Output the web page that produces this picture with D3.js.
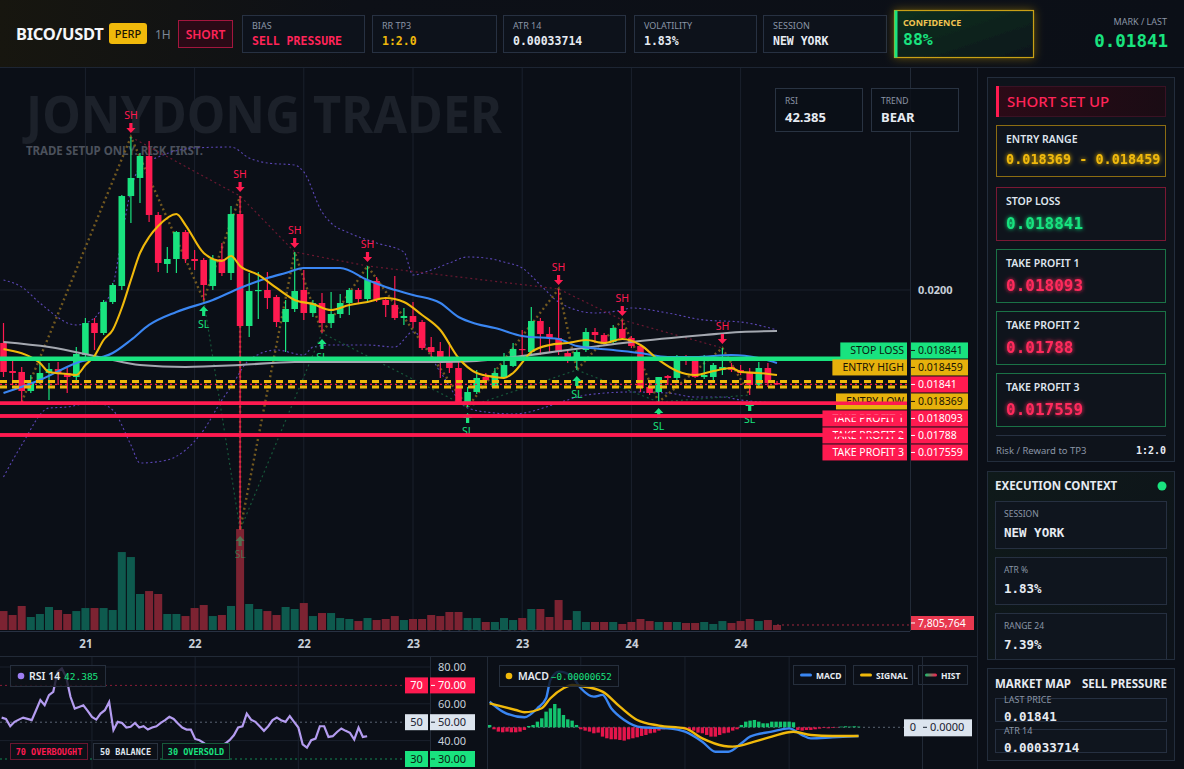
<!DOCTYPE html>
<html>
<head>
<meta charset="utf-8">
<title>BICO/USDT short setup</title>
<script src="https://cdn.jsdelivr.net/npm/d3@7/dist/d3.min.js"></script>
<style>
  html, body { margin: 0; padding: 0; background: #0b0f17; overflow: hidden; }
  svg { display: block; }
  text { font-family: "Noto Sans", "Open Sans", sans-serif; }
  .mono { font-family: "DejaVu Sans Mono", "Liberation Mono", monospace; }
</style>
</head>
<body>
<svg id="chart" width="1184" height="769"></svg>
<script>
'use strict';

// ---- values (1H candles) ----
const tickIdx = [9, 21, 33, 45, 57, 69, 81];
const tickLabels = ['21', '22', '22', '23', '23', '24', '24'];
const subGridIdx = [21, 45, 69];

const openP = [0.019108,0.018636,0.018620,0.018300,0.018451,0.018603,0.018670,0.018603,0.018535,0.018906,
  0.019444,0.019276,0.019798,0.020067,0.021582,0.021886,0.022256,0.021263,0.020438,0.020522,
  0.020976,0.020522,0.020505,0.020067,0.020522,0.020286,0.021279,0.019394,0.019983,0.020000,
  0.019882,0.019461,0.019680,0.020000,0.019613,0.019781,0.019444,0.019596,0.019781,0.020000,
  0.019848,0.020152,0.019832,0.019747,0.019529,0.019562,0.019461,0.019040,0.018973,0.018855,
  0.018687,0.018098,0.018283,0.018535,0.018367,0.018535,0.018721,0.019007,0.018956,0.019478,
  0.019259,0.019192,0.018939,0.018855,0.018990,0.019293,0.019242,0.019125,0.019343,0.019192,
  0.019057,0.018367,0.018283,0.018552,0.018519,0.018872,0.018855,0.018535,0.018535,0.018653,
  0.018704,0.018653,0.018603,0.018401,0.018687,0.018434];
const highP = [0.019444,0.018872,0.018704,0.018569,0.018822,0.018771,0.018788,0.018687,0.019040,0.019529,
  0.019529,0.019832,0.020118,0.021599,0.022576,0.022306,0.022508,0.021313,0.020724,0.020993,
  0.021010,0.020673,0.020539,0.020589,0.020791,0.021414,0.021582,0.020286,0.020303,0.020303,
  0.019916,0.019832,0.020640,0.020337,0.019832,0.019949,0.019966,0.019933,0.020034,0.020034,
  0.020404,0.020219,0.019882,0.020236,0.019697,0.019798,0.019495,0.019209,0.019125,0.019125,
  0.018822,0.018367,0.018653,0.018603,0.018687,0.018939,0.019108,0.019327,0.019714,0.019529,
  0.019377,0.020017,0.018990,0.018990,0.019360,0.019360,0.019276,0.019411,0.019495,0.019226,
  0.019091,0.018434,0.018535,0.018569,0.018906,0.018906,0.018889,0.018906,0.018771,0.019024,
  0.018771,0.018737,0.018687,0.018788,0.018771,0.018468];
const lowP = [0.018535,0.018401,0.018114,0.018266,0.018418,0.018148,0.018401,0.018266,0.018485,0.018872,
  0.018990,0.019242,0.019764,0.020000,0.021128,0.021465,0.021145,0.020303,0.020286,0.020286,
  0.020455,0.020337,0.019832,0.020000,0.020236,0.020168,0.015960,0.019209,0.019512,0.019680,
  0.019377,0.018956,0.019630,0.019495,0.019545,0.019276,0.019360,0.019529,0.019579,0.019781,
  0.019815,0.019798,0.019545,0.019495,0.019411,0.019360,0.018990,0.018771,0.018519,0.018603,
  0.018081,0.018030,0.018249,0.018401,0.018350,0.018519,0.018704,0.018872,0.018906,0.018906,
  0.018939,0.018906,0.018771,0.018653,0.018956,0.019108,0.019074,0.019091,0.019158,0.019024,
  0.018283,0.018232,0.018114,0.018401,0.018485,0.018737,0.018519,0.018502,0.018485,0.018569,
  0.018620,0.018569,0.018232,0.018367,0.018367,0.018401];
const closeP = [0.018620,0.018603,0.018300,0.018451,0.018603,0.018670,0.018603,0.018535,0.018923,0.019444,
  0.019276,0.019798,0.020084,0.021582,0.021886,0.022256,0.021263,0.020455,0.020522,0.020976,
  0.020522,0.020488,0.020084,0.020522,0.020286,0.021279,0.019394,0.019983,0.020000,0.019865,
  0.019461,0.019680,0.019983,0.019613,0.019781,0.019444,0.019596,0.019781,0.020000,0.019848,
  0.020168,0.019832,0.019747,0.019529,0.019562,0.019461,0.019024,0.018956,0.018822,0.018687,
  0.018114,0.018283,0.018519,0.018485,0.018603,0.018737,0.019007,0.018990,0.019478,0.019259,
  0.019192,0.018956,0.018822,0.018956,0.019293,0.019242,0.019125,0.019360,0.019192,0.019057,
  0.018350,0.018266,0.018535,0.018519,0.018822,0.018822,0.018535,0.018569,0.018737,0.018704,
  0.018653,0.018603,0.018401,0.018687,0.018434,0.018410];
// volume in millions
const volumeM = [29.6,23.4,37.5,20.3,25.0,35.9,31.2,25.0,29.6,34.3,
  34.3,34.3,31.2,121.7,113.9,56.2,60.8,56.2,25.0,25.0,
  21.8,34.3,39.0,21.8,23.4,37.5,157.6,40.6,32.8,29.6,
  23.4,35.9,32.8,42.1,21.8,26.5,26.5,18.7,17.2,14.0,
  18.7,15.6,17.2,21.8,15.6,17.2,17.2,23.4,21.8,28.1,
  28.1,18.7,18.7,12.5,12.5,18.7,15.6,18.7,32.8,32.8,
  20.3,46.8,15.6,29.6,12.5,12.5,12.5,12.5,9.4,12.5,
  17.2,14.0,12.5,12.5,12.5,10.9,10.9,12.5,9.4,14.0,
  10.9,14.0,17.2,14.0,15.6,7.805764];
const lastVolume = 7805764;

// indicator lines, [candle, price]
const emaFast = [[0,0.019007],[4,0.018771],[5,0.018620],[7,0.018586],[8,0.018569],[9,0.018737],[10,0.018889],
  [11,0.019158],[12,0.019327],[13,0.019697],[14,0.020168],[15,0.020623],[16,0.020892],[17,0.021077],[19,0.021279],
  [20,0.021094],[22,0.020623],[24,0.020488],[25,0.020572],[26,0.020404],[28,0.020253],[30,0.020034],[32,0.019832],
  [34,0.019764],[36,0.019663],[38,0.019747],[40,0.019798],[42,0.019865],[44,0.019798],[46,0.019579],[48,0.019327],
  [50,0.018855],[52,0.018603],[54,0.018535],[55,0.018519],[56,0.018603],[58,0.018956],[60,0.019074],[62,0.019108],
  [64,0.019158],[66,0.019108],[68,0.019175],[70,0.019074],[72,0.018822],[74,0.018636],[76,0.018569],[78,0.018636],
  [80,0.018687],[81,0.018620],[83,0.018603],[85,0.018569]];
const emaSlow = [[0,0.018266],[4,0.018485],[8,0.018771],[12,0.018939],[14,0.019158],[16,0.019411],[19,0.019630],
  [23,0.019832],[26,0.020034],[29,0.020202],[31,0.020286],[33,0.020370],[37,0.020370],[40,0.020168],[42,0.020051],
  [45,0.019916],[48,0.019781],[50,0.019545],[52,0.019428],[54,0.019360],[57,0.019226],[61,0.019175],[63,0.019057],
  [67,0.018990],[70,0.018939],[73,0.018872],[76,0.018872],[80,0.018906],[83,0.018855],[85,0.018771]];
const maLong = [[0,0.019125],[5,0.019040],[11,0.018855],[15,0.018737],[20,0.018704],[26,0.018737],[32,0.018788],
  [40,0.018788],[48,0.018788],[52,0.018805],[56,0.018872],[62,0.018990],[69,0.019125],[77,0.019242],[81,0.019293],
  [85,0.019310]];
const bbUpper = [[0,0.020168],[2,0.020051],[4,0.019781],[8,0.019411],[10,0.019529],[11,0.019747],[12,0.020051],
  [13,0.020892],[14,0.021684],[15,0.022071],[17,0.022239],[21,0.022391],[25,0.022407],[27,0.022222],[29,0.022138],
  [32,0.022104],[33,0.021987],[35,0.021313],[36,0.021128],[38,0.020960],[41,0.020791],[44,0.020640],[45,0.020253],
  [47,0.020337],[49,0.020455],[51,0.020556],[53,0.020539],[55,0.020471],[57,0.020370],[59,0.020084],[61,0.019798],
  [65,0.019613],[68,0.019663],[69,0.019697],[73,0.019613],[77,0.019495],[81,0.019461],[85,0.019327]];
const bbLower = [[0,0.016852],[2,0.017391],[5,0.018013],[7,0.018030],[10,0.018114],[12,0.017980],[14,0.017391],
  [15,0.017088],[18,0.017138],[20,0.017306],[22,0.017643],[24,0.018148],[25,0.018367],[27,0.018822],[30,0.018990],
  [33,0.018906],[34,0.019040],[36,0.019074],[40,0.019074],[43,0.019040],[45,0.019293],[48,0.018620],[51,0.018013],
  [54,0.017929],[56,0.017912],[62,0.018148],[64,0.018232],[69,0.018283],[73,0.018266],[76,0.018199],[79,0.018199],
  [81,0.018148],[85,0.018098]];

const swingHighIdx = [14, 26, 32, 40, 61, 68, 79];
const swingLowIdx = [22, 26, 35, 51, 63, 72, 82];
const zigzagStartIdx = 2;

const levelNames = ['STOP LOSS', 'ENTRY HIGH', '', 'ENTRY LOW', 'TAKE PROFIT 1', 'TAKE PROFIT 2', 'TAKE PROFIT 3'];
const levelPrices = [0.018841, 0.018459, 0.01841, 0.018369, 0.018093, 0.01788, 0.017559];
const levelKinds = ['stop', 'entry', 'last', 'entry', 'tp', 'tp', 'tp'];

const rsi14 = [52.5,51.8,47.8,50.2,51.4,52.5,51.8,51.1,56.5,62.0,
  59.2,64.7,66.5,77.4,79.2,74.6,63.8,57.4,58.3,59.2,
  56.2,52.9,51.4,54.7,56.5,61.0,45.7,50.2,49.6,47.1,
  47.5,49.6,47.1,47.8,46.0,47.1,47.8,49.6,51.1,52.9,
  51.8,49.3,47.1,46.0,46.0,40.9,40.2,38.8,37.0,33.0,
  34.8,37.0,38.4,40.2,42.9,47.1,47.8,54.7,51.4,50.2,
  47.8,45.3,47.8,51.1,52.5,51.1,50.2,53.3,50.2,47.1,
  38.0,36.2,40.2,41.1,47.8,47.8,42.0,42.4,44.7,46.6,
  45.3,44.2,40.6,47.1,42.0,42.385];
const rsiLevels = [70, 50, 30];

// MACD values in units of 1e-6
const macdLine = [[0,19.3],[3,11.8],[8,7.5],[11,14.3],[13,21.8],[14,35.5],[16,41.8],[19,38.0],[21,29.3],
  [24,23.0],[26,24.3],[28,14.3],[31,5.5],[35,0],[41,-0.8],[45,-3.3],[49,-10.8],[52,-18.3],[55,-18.3],
  [58,-12.0],[60,-7.0],[65,-3.3],[69,-0.8],[72,-5.8],[74,-8.3],[79,-7.5],[85,-6.52]];
const macdSignal = [[0,18.0],[6,13.0],[8,11.3],[12,14.3],[14,21.8],[17,29.3],[19,31.8],[21,31.0],[26,26.8],
  [30,15.5],[34,5.5],[39,1.3],[45,-0.8],[49,-8.3],[54,-14.0],[56,-14.5],[61,-10.8],[65,-7.0],[70,-3.3],
  [74,-5.8],[79,-6.5],[85,-6.5]];
const macdHist = [1.75,-1.5,-3.25,-3.75,-3.25,-3.75,-3.75,-3.25,-2.0,1.0,
  1.75,4.25,6.75,11.75,14.25,17.5,14.25,9.25,6.0,5.0,
  1.75,-1.5,-2.5,-3.25,-4.5,-4.0,-7.0,-8.25,-9.0,-9.0,
  -9.5,-10.0,-9.0,-8.25,-7.5,-6.5,-5.75,-4.5,-4.0,-2.5,
  -1.5,-0.75,-0.75,-0.75,-0.75,-1.5,-2.0,-2.5,-4.0,-4.5,
  -5.75,-7.0,-7.0,-5.75,-4.5,-4.0,-2.5,-1.5,1.75,4.25,
  5.0,5.5,4.25,3.0,3.0,4.25,4.25,4.25,4.25,4.25,
  3.75,-2.0,-2.5,-2.0,-2.0,-1.5,-1.0,-0.5,-0.75,-0.5,
  -0.25,0.5,0.75,0.5,0.75,0.5];

const headerLabels = ['BIAS', 'RR TP3', 'ATR 14', 'VOLATILITY', 'SESSION'];
const headerValues = ['SELL PRESSURE', '1:2.0', '0.00033714', '1.83%', 'NEW YORK'];
const contextLabels = ['SESSION', 'ATR %', 'RANGE 24'];
const contextValues = ['NEW YORK', '1.83%', '7.39%'];

// ---- colours ----
const GREEN = '#19e37f', RED = '#ff1a50', GOLD = '#f0b90b', BLUE = '#3a86f2';
const TXT = '#e6ebf2', MUTED = '#8a95a6', PANEL = '#0e131b', EDGE = '#232d3c';

const svg = d3.select('#chart');
const defs = svg.append('defs');

function grad(id, stops, x2, y2) {
  const g = defs.append('linearGradient').attr('id', id)
    .attr('x1', 0).attr('y1', 0).attr('x2', x2).attr('y2', y2);
  stops.forEach(s => g.append('stop').attr('offset', s[0]).attr('stop-color', s[1]));
}
grad('topGrad', [['0%', '#17160f'], ['30%', '#0d1017'], ['100%', '#0b0f17']], 1, 0);
grad('confGrad', [['0%', '#10301f'], ['100%', '#0c161a']], 1, 1);
grad('histGrad', [['0%', '#13c46e'], ['100%', RED]], 1, 0);
grad('shortGrad', [['0%', '#2c0a17'], ['100%', '#1a0c14']], 1, 0);
grad('execGrad', [['0%', '#0f1a1a'], ['100%', '#0d1219']], 1, 1);

function glowFilter(id, std) {
  const f = defs.append('filter').attr('id', id)
    .attr('x', '-20%').attr('y', '-60%').attr('width', '140%').attr('height', '220%');
  f.append('feGaussianBlur').attr('in', 'SourceGraphic').attr('stdDeviation', std).attr('result', 'b');
  const m = f.append('feMerge');
  m.append('feMergeNode').attr('in', 'b');
  m.append('feMergeNode').attr('in', 'SourceGraphic');
}
glowFilter('glow', 2.2);
const boxGlow = defs.append('filter').attr('id', 'boxGlow')
  .attr('x', '-20%').attr('y', '-40%').attr('width', '140%').attr('height', '180%');
boxGlow.append('feDropShadow').attr('dx', 0).attr('dy', 0).attr('stdDeviation', 5)
  .attr('flood-color', '#d4a514').attr('flood-opacity', 0.45);

svg.append('rect').attr('width', 1184).attr('height', 769).attr('fill', '#0b0f17');

// ================= top bar =================
svg.append('rect').attr('width', 1184).attr('height', 67).attr('fill', 'url(#topGrad)');
svg.append('line').attr('x1', 0).attr('x2', 1184).attr('y1', 67.5).attr('y2', 67.5).attr('stroke', '#1d2533');

svg.append('text').attr('x', 16).attr('y', 40).attr('font-size', 16.5).attr('font-weight', 700)
  .attr('fill', '#f4f6f9').attr('letter-spacing', -0.3).text('BICO/USDT');
svg.append('rect').attr('x', 109).attr('y', 23).attr('width', 38).attr('height', 21).attr('rx', 3).attr('fill', GOLD);
svg.append('text').attr('x', 128).attr('y', 38).attr('text-anchor', 'middle').attr('font-size', 11)
  .attr('font-weight', 500).attr('fill', '#1b1404').text('PERP');
svg.append('text').attr('x', 155).attr('y', 38.5).attr('font-size', 12).attr('fill', '#7b8595').text('1H');
svg.append('rect').attr('x', 178.5).attr('y', 20.5).attr('width', 54).attr('height', 27)
  .attr('fill', '#2a0a16').attr('stroke', '#a3163e');
svg.append('text').attr('x', 205.5).attr('y', 38.5).attr('text-anchor', 'middle').attr('font-size', 12)
  .attr('font-weight', 600).attr('fill', '#ff2458').text('SHORT');

const cardX = [242, 372, 503, 634, 763];
const cardW = [122, 124, 122, 122, 123];
const cardColor = ['#ff2458', GOLD, TXT, TXT, TXT];
headerLabels.forEach((lab, k) => {
  const g = svg.append('g').attr('transform', `translate(${cardX[k]},15)`);
  g.append('rect').attr('x', 0.5).attr('y', 0.5).attr('width', cardW[k]).attr('height', 37)
    .attr('fill', '#0d121b').attr('stroke', '#273142');
  g.append('text').attr('x', 10).attr('y', 14).attr('font-size', 9).attr('fill', MUTED).text(lab);
  g.append('text').attr('class', 'mono').attr('x', 10).attr('y', 29.5).attr('font-size', 11.5)
    .attr('font-weight', 700).attr('fill', cardColor[k]).text(headerValues[k]);
});

const conf = svg.append('g').attr('transform', 'translate(894,10)');
conf.append('rect').attr('x', 0.5).attr('y', 0.5).attr('width', 139).attr('height', 47)
  .attr('fill', 'url(#confGrad)').attr('stroke', '#c9a013').attr('stroke-width', 1.2).attr('filter', 'url(#boxGlow)');
conf.append('rect').attr('x', 0.5).attr('y', 0.5).attr('width', 3).attr('height', 47).attr('fill', GREEN);
conf.append('text').attr('x', 9).attr('y', 16).attr('font-size', 9).attr('font-weight', 700)
  .attr('fill', '#f0c452').text('CONFIDENCE');
conf.append('text').attr('class', 'mono').attr('x', 9).attr('y', 35).attr('font-size', 16.5)
  .attr('font-weight', 700).attr('fill', GREEN).text('88%');

svg.append('text').attr('x', 1167).attr('y', 25).attr('text-anchor', 'end').attr('font-size', 9)
  .attr('fill', MUTED).text('MARK / LAST');
svg.append('text').attr('class', 'mono').attr('x', 1168).attr('y', 47).attr('text-anchor', 'end')
  .attr('font-size', 17.5).attr('font-weight', 700).attr('fill', GREEN)
  .text(d3.format('.5f')(closeP[closeP.length - 1]));

// ================= main price chart =================
const x = d3.scaleLinear().domain([0, 100]).range([3.5, 913.5]);
const y = d3.scaleLinear().domain([0.017559, 0.02]).range([435, 290]);
const yv = d3.scaleLinear().domain([0, 156.1]).range([630, 530]);
const axisX = 910;

defs.append('clipPath').attr('id', 'plotClip').append('rect')
  .attr('x', 0).attr('y', 68).attr('width', axisX).attr('height', 563);
const plot = svg.append('g').attr('clip-path', 'url(#plotClip)');

plot.selectAll('.vgrid').data(tickIdx).join('line')
  .attr('x1', d => x(d)).attr('x2', d => x(d)).attr('y1', 68).attr('y2', 631).attr('stroke', '#1a212d');
plot.append('line').attr('x1', 0).attr('x2', axisX).attr('y1', y(0.02)).attr('y2', y(0.02)).attr('stroke', '#1a212d');

plot.append('text').attr('x', 26).attr('y', 133).attr('font-size', 52).attr('font-weight', 700)
  .attr('textLength', 476).attr('lengthAdjust', 'spacingAndGlyphs').attr('fill', '#1c212a').text('JONYDONG TRADER');
plot.append('text').attr('x', 26).attr('y', 155).attr('font-size', 11.5).attr('font-weight', 700)
  .attr('textLength', 177).attr('fill', '#4b515c').text('TRADE SETUP ONLY. RISK FIRST.');
plot.append('text').attr('x', 427).attr('y', 638).attr('font-size', 12.5).attr('font-weight', 600)
  .attr('textLength', 121).attr('fill', '#262c36').text('FALLEN ANGEL');

const candles = d3.range(openP.length).map(i => ({
  i, o: openP[i], h: highP[i], l: lowP[i], c: closeP[i], v: volumeM[i], up: closeP[i] >= openP[i]
}));

// volume
plot.selectAll('.vol').data(candles).join('rect')
  .attr('x', d => x(d.i) - 4).attr('width', 8)
  .attr('y', d => yv(d.v)).attr('height', d => yv(0) - yv(d.v))
  .attr('fill', d => d.up ? '#0e5a4e' : '#7c2332');
plot.append('line').attr('x1', x(candles.length - 1)).attr('x2', axisX)
  .attr('y1', yv(volumeM[volumeM.length - 1])).attr('y2', yv(volumeM[volumeM.length - 1]))
  .attr('stroke', '#a0283f').attr('stroke-dasharray', '2,3');

const priceLine = d3.line().x(d => x(d[0])).y(d => y(d[1])).curve(d3.curveMonotoneX);

// bollinger bands
[bbUpper, bbLower].forEach(band => {
  plot.append('path').attr('d', priceLine(band)).attr('fill', 'none')
    .attr('stroke', '#5a46b4').attr('stroke-width', 1.1).attr('stroke-dasharray', '2,2.5');
});

// swing structure
const shPts = swingHighIdx.map(i => [i, highP[i]]);
const slPts = swingLowIdx.map(i => [i, lowP[i]]);
const straight = d3.line().x(d => x(d[0])).y(d => y(d[1]));
plot.append('path').attr('d', straight(shPts)).attr('fill', 'none')
  .attr('stroke', '#6a1830').attr('stroke-width', 1.2).attr('stroke-dasharray', '2,3');
plot.append('path').attr('d', straight(slPts)).attr('fill', 'none')
  .attr('stroke', '#17563a').attr('stroke-width', 1.2).attr('stroke-dasharray', '2,3');
const zz = [[zigzagStartIdx, lowP[zigzagStartIdx]]];
swingHighIdx.forEach((h, k) => { zz.push([h, highP[h]]); zz.push(slPts[k]); });
plot.append('path').attr('d', straight(zz)).attr('fill', 'none')
  .attr('stroke', '#7d6020').attr('stroke-width', 2.4).attr('stroke-dasharray', '2,3').attr('opacity', 0.9);

// candles
const cg = plot.selectAll('.candle').data(candles).join('g');
cg.append('line').attr('x1', d => x(d.i)).attr('x2', d => x(d.i))
  .attr('y1', d => y(d.h)).attr('y2', d => y(d.l))
  .attr('stroke', d => d.up ? GREEN : RED).attr('stroke-width', 1.2);
cg.append('rect').attr('x', d => x(d.i) - 3.3).attr('width', 6.6)
  .attr('y', d => y(Math.max(d.o, d.c)))
  .attr('height', d => Math.max(1.2, Math.abs(y(d.o) - y(d.c))))
  .attr('fill', d => d.up ? GREEN : RED);

// moving averages
[[maLong, '#a4a8b0'], [emaSlow, BLUE], [emaFast, GOLD]].forEach(s => {
  plot.append('path').attr('d', priceLine(s[0])).attr('fill', 'none')
    .attr('stroke', s[1]).attr('stroke-width', 2.1);
});

// levels
levelPrices.forEach((p, k) => {
  const kind = levelKinds[k];
  const ln = plot.append('line').attr('x1', 0).attr('x2', axisX - 3).attr('y1', y(p)).attr('y2', y(p));
  if (kind === 'stop') ln.attr('stroke', GREEN).attr('stroke-width', 4.5);
  if (kind === 'entry') ln.attr('stroke', GOLD).attr('stroke-width', 3).attr('stroke-dasharray', '7,5');
  if (kind === 'last') ln.attr('stroke', RED).attr('stroke-width', 1.2).attr('stroke-dasharray', '2,3');
  if (kind === 'tp') ln.attr('stroke', RED).attr('stroke-width', 3.5);
});

// swing markers
function arrow(cx, tip, dir) {
  const head = tip - dir * 5, tail = tip - dir * 10;
  return `M${cx - 1.6},${tail}L${cx + 1.6},${tail}L${cx + 1.6},${head}L${cx + 4.6},${head}` +
    `L${cx},${tip}L${cx - 4.6},${head}L${cx - 1.6},${head}Z`;
}
swingHighIdx.forEach(i => {
  const top = y(highP[i]);
  plot.append('path').attr('d', arrow(x(i), top - 4, 1)).attr('fill', RED);
  plot.append('text').attr('x', x(i)).attr('y', top - 18).attr('text-anchor', 'middle')
    .attr('font-size', 10.5).attr('fill', RED).text('SH');
});
swingLowIdx.forEach(i => {
  const bot = y(lowP[i]);
  const faded = bot > 500;
  plot.append('path').attr('d', arrow(x(i), bot + 6, -1)).attr('fill', GREEN).attr('opacity', faded ? 0.4 : 1);
  plot.append('text').attr('x', x(i)).attr('y', bot + 28).attr('text-anchor', 'middle')
    .attr('font-size', 10.5).attr('fill', GREEN).attr('opacity', faded ? 0.4 : 1).text('SL');
});

// level tags stacked around the last price
const tagH = 16, tagGap = 1;
const lastK = levelKinds.indexOf('last');
const centers = levelPrices.map(p => y(p));
for (let k = lastK - 1; k >= 0; k--) centers[k] = Math.min(centers[k], centers[k + 1] - tagH - tagGap);
for (let k = lastK + 1; k < centers.length; k++) centers[k] = Math.max(centers[k], centers[k - 1] + tagH + tagGap);
const tagFill = { stop: GREEN, entry: '#e6b10c', last: RED, tp: RED };
const tagText = { stop: '#0a1a11', entry: '#1a1405', last: '#ffffff', tp: '#ffffff' };

const tags = svg.append('g');
levelPrices.forEach((p, k) => {
  const kind = levelKinds[k], cy = centers[k];
  if (levelNames[k]) {
    const t = tags.append('text').attr('x', axisX - 6).attr('y', cy + 3.8).attr('text-anchor', 'end')
      .attr('font-size', 10.5).attr('fill', tagText[kind]).text(levelNames[k]);
    const w = t.node().getComputedTextLength();
    tags.insert('rect', 'text').attr('x', axisX - 10 - w - 6).attr('y', cy - tagH / 2)
      .attr('width', w + 13).attr('height', tagH).attr('fill', tagFill[kind]);
  }
  tags.append('rect').attr('x', axisX).attr('y', cy - tagH / 2).attr('width', 58).attr('height', tagH)
    .attr('fill', tagFill[kind]);
  tags.append('line').attr('x1', axisX + 1).attr('x2', axisX + 5).attr('y1', cy).attr('y2', cy)
    .attr('stroke', tagText[kind]);
  tags.append('text').attr('x', axisX + 8).attr('y', cy + 3.8).attr('font-size', 10.5)
    .attr('fill', tagText[kind]).text(String(p));
});
// the target / entry lines run over the stacked name tags
levelPrices.forEach((p, k) => {
  const kind = levelKinds[k];
  if (kind === 'tp') tags.append('line').attr('x1', 0).attr('x2', axisX - 3).attr('y1', y(p)).attr('y2', y(p))
    .attr('stroke', RED).attr('stroke-width', 3.5);
});

// volume tag
const vTop = yv(volumeM[volumeM.length - 1]);
svg.append('rect').attr('x', axisX).attr('y', vTop - 9).attr('width', 64).attr('height', 14).attr('fill', '#e8384f');
svg.append('line').attr('x1', axisX + 1).attr('x2', axisX + 5).attr('y1', vTop - 2).attr('y2', vTop - 2).attr('stroke', '#fff');
svg.append('text').attr('x', axisX + 8).attr('y', vTop + 2).attr('font-size', 10.5).attr('fill', '#fff')
  .text(d3.format(',')(lastVolume));

// axes
svg.append('line').attr('x1', axisX + 0.5).attr('x2', axisX + 0.5).attr('y1', 68).attr('y2', 631).attr('stroke', '#222a37');
svg.append('line').attr('x1', 0).attr('x2', axisX).attr('y1', 631.5).attr('y2', 631.5).attr('stroke', '#283142');
svg.append('g').attr('transform', `translate(${axisX + 4},0)`)
  .call(d3.axisRight(y).tickValues([0.02]).tickFormat(d3.format('.4f')).tickSize(0).tickPadding(4))
  .call(g => g.select('.domain').remove())
  .call(g => g.selectAll('text').attr('fill', '#c8cfd9').attr('font-size', 11).attr('font-weight', 700)
    .attr('font-family', '"Noto Sans", sans-serif'));
svg.append('g').attr('transform', 'translate(0,632)')
  .call(d3.axisBottom(x).tickValues(tickIdx).tickFormat((d, k) => tickLabels[k]).tickSize(0).tickPadding(8))
  .call(g => g.select('.domain').remove())
  .call(g => g.selectAll('text').attr('fill', '#c8cfd9').attr('font-size', 11.5).attr('font-weight', 700)
    .attr('font-family', '"Noto Sans", sans-serif'));

// RSI / TREND info boxes
[['RSI', String(rsi14[rsi14.length - 1]), 775], ['TREND', 'BEAR', 871]].forEach(b => {
  svg.append('rect').attr('x', b[2] + 0.5).attr('y', 88.5).attr('width', 87).attr('height', 43)
    .attr('fill', '#0b0f17').attr('fill-opacity', 0.85).attr('stroke', '#293342');
  svg.append('text').attr('x', b[2] + 10).attr('y', 104).attr('font-size', 8.5).attr('fill', MUTED).text(b[0]);
  svg.append('text').attr('x', b[2] + 10).attr('y', 122).attr('font-size', 13).attr('font-weight', 700)
    .attr('fill', TXT).text(b[1]);
});

// ================= bottom panels =================
svg.append('line').attr('x1', 0).attr('x2', 977).attr('y1', 656.5).attr('y2', 656.5).attr('stroke', '#222a37');
svg.append('line').attr('x1', 977.5).attr('x2', 977.5).attr('y1', 68).attr('y2', 769).attr('stroke', '#1d2431');

// RSI
const rsiAxisX = 430;
const xr = d3.scaleLinear().domain([0, 100]).range([3.5 * rsiAxisX / 910, 913.5 * rsiAxisX / 910]);
const yr = d3.scaleLinear().domain([30, 80]).range([759, 667]);
defs.append('clipPath').attr('id', 'rsiClip').append('rect').attr('x', 0).attr('y', 657).attr('width', rsiAxisX).attr('height', 112);
const rsiG = svg.append('g').attr('clip-path', 'url(#rsiClip)');
rsiG.selectAll('.rg').data(subGridIdx).join('line')
  .attr('x1', d => xr(d)).attr('x2', d => xr(d)).attr('y1', 657).attr('y2', 769).attr('stroke', '#1a212d');
rsiG.selectAll('.rh').data([80, 60, 40]).join('line')
  .attr('x1', 0).attr('x2', rsiAxisX).attr('y1', d => yr(d)).attr('y2', d => yr(d)).attr('stroke', '#1a212d');
const rsiLevelColor = ['#8a1c36', '#5b6474', '#138a55'];
rsiLevels.forEach((v, k) => {
  rsiG.append('line').attr('x1', 0).attr('x2', rsiAxisX).attr('y1', yr(v)).attr('y2', yr(v))
    .attr('stroke', rsiLevelColor[k]).attr('stroke-dasharray', '2,3');
});
rsiG.append('path').attr('d', d3.line().x((d, i) => xr(i)).y(d => yr(d))(rsi14))
  .attr('fill', 'none').attr('stroke', '#b49cf0').attr('stroke-width', 2.2);

svg.append('rect').attr('x', 10.5).attr('y', 665.5).attr('width', 95).attr('height', 21)
  .attr('fill', '#0c1018').attr('fill-opacity', 0.8).attr('stroke', '#262f3d');
svg.append('circle').attr('cx', 21).attr('cy', 676).attr('r', 3.3).attr('fill', '#9d7ef2');
svg.append('text').attr('x', 29).attr('y', 680).attr('font-size', 10.5).attr('font-weight', 600).attr('fill', TXT).text('RSI 14');
svg.append('text').attr('class', 'mono').attr('x', 64).attr('y', 680).attr('font-size', 9.5).attr('fill', GREEN)
  .text(String(rsi14[rsi14.length - 1]));

const badgeText = ['70 OVERBOUGHT', '50 BALANCE', '30 OVERSOLD'];
const badgeX = [10, 93, 162], badgeW = [77, 64, 67];
const badgeStroke = ['#6a1630', '#2b3340', '#17593a'], badgeFill = [RED, '#dfe5ee', GREEN];
badgeText.forEach((t, k) => {
  svg.append('rect').attr('x', badgeX[k] + 0.5).attr('y', 743.5).attr('width', badgeW[k]).attr('height', 16)
    .attr('fill', '#0c1018').attr('stroke', badgeStroke[k]);
  svg.append('text').attr('class', 'mono').attr('x', badgeX[k] + badgeW[k] / 2 + 0.5).attr('y', 755)
    .attr('text-anchor', 'middle').attr('font-size', 8.5).attr('font-weight', 700).attr('fill', badgeFill[k]).text(t);
});

svg.append('line').attr('x1', rsiAxisX + 0.5).attr('x2', rsiAxisX + 0.5).attr('y1', 657).attr('y2', 769).attr('stroke', '#222a37');
svg.append('g').attr('transform', `translate(${rsiAxisX + 4},0)`)
  .call(d3.axisRight(yr).tickValues([80, 60, 40]).tickFormat(d3.format('.2f')).tickSize(0).tickPadding(4))
  .call(g => g.select('.domain').remove())
  .call(g => g.selectAll('text').attr('fill', '#c8cfd9').attr('font-size', 11)
    .attr('font-family', '"Noto Sans", sans-serif'));
const rsiTagBg = [RED, '#dce4ee', GREEN], rsiTagFg = ['#fff', '#1a2230', '#0a1a11'];
rsiLevels.forEach((v, k) => {
  const cy = yr(v);
  svg.append('rect').attr('x', 405).attr('y', cy - 8).attr('width', 23).attr('height', 16).attr('fill', rsiTagBg[k]);
  svg.append('text').attr('x', 416.5).attr('y', cy + 4).attr('text-anchor', 'middle').attr('font-size', 11)
    .attr('fill', rsiTagFg[k]).text(v);
  svg.append('rect').attr('x', rsiAxisX).attr('y', cy - 8).attr('width', 45).attr('height', 16).attr('fill', rsiTagBg[k]);
  svg.append('line').attr('x1', rsiAxisX + 1).attr('x2', rsiAxisX + 5).attr('y1', cy).attr('y2', cy).attr('stroke', rsiTagFg[k]);
  svg.append('text').attr('x', rsiAxisX + 8).attr('y', cy + 4).attr('font-size', 11)
    .attr('fill', rsiTagFg[k]).text(d3.format('.2f')(v));
});

// MACD
const macdLeft = 488, macdAxisX = 922;
const kM = (macdAxisX - macdLeft) / 910;
svg.append('line').attr('x1', macdLeft - 0.5).attr('x2', macdLeft - 0.5).attr('y1', 657).attr('y2', 769).attr('stroke', '#222a37');
const xm = d3.scaleLinear().domain([0, 100]).range([macdLeft + 3.5 * kM, macdLeft + 913.5 * kM]);
const ym = d3.scaleLinear().domain([0, 40]).range([727.3, 674]);
defs.append('clipPath').attr('id', 'macdClip').append('rect').attr('x', macdLeft).attr('y', 657)
  .attr('width', macdAxisX - macdLeft).attr('height', 112);
const macdG = svg.append('g').attr('clip-path', 'url(#macdClip)');
macdG.selectAll('.mg').data(subGridIdx).join('line')
  .attr('x1', d => xm(d)).attr('x2', d => xm(d)).attr('y1', 657).attr('y2', 769).attr('stroke', '#1a212d');
macdG.append('line').attr('x1', macdLeft).attr('x2', macdAxisX).attr('y1', ym(0)).attr('y2', ym(0))
  .attr('stroke', '#5b6474').attr('stroke-dasharray', '2,3');
macdG.selectAll('.hist').data(macdHist).join('rect')
  .attr('x', (d, i) => xm(i) - 1.7).attr('width', 3.4)
  .attr('y', d => Math.min(ym(d), ym(0))).attr('height', d => Math.abs(ym(d) - ym(0)))
  .attr('fill', d => d >= 0 ? '#13c46e' : '#e5154b');
const macdPath = d3.line().x(d => xm(d[0])).y(d => ym(d[1])).curve(d3.curveMonotoneX);
macdG.append('path').attr('d', macdPath(macdLine)).attr('fill', 'none').attr('stroke', BLUE).attr('stroke-width', 2.4);
macdG.append('path').attr('d', macdPath(macdSignal)).attr('fill', 'none').attr('stroke', GOLD).attr('stroke-width', 2.4);

svg.append('rect').attr('x', 499.5).attr('y', 665.5).attr('width', 119).attr('height', 21)
  .attr('fill', '#0c1018').attr('fill-opacity', 0.8).attr('stroke', '#262f3d');
svg.append('circle').attr('cx', 509).attr('cy', 676).attr('r', 3.3).attr('fill', GOLD);
svg.append('text').attr('x', 518).attr('y', 680).attr('font-size', 10.5).attr('font-weight', 600).attr('fill', TXT).text('MACD');
svg.append('text').attr('class', 'mono').attr('x', 551).attr('y', 680).attr('font-size', 9.2).attr('fill', GREEN)
  .text(d3.format('.8f')(macdLine[macdLine.length - 1][1] * 1e-6));

const chipNames = ['MACD', 'SIGNAL', 'HIST'];
const chipX = [793, 853, 918], chipW = [52, 59, 49];
const chipSwatch = [BLUE, GOLD, 'url(#histGrad)'];
chipNames.forEach((n, k) => {
  svg.append('rect').attr('x', chipX[k] + 0.5).attr('y', 665.5).attr('width', chipW[k]).attr('height', 19)
    .attr('fill', '#0c1018').attr('stroke', '#262f3d');
  svg.append('rect').attr('x', chipX[k] + 7).attr('y', 673.5).attr('width', 12).attr('height', 3).attr('rx', 1.5)
    .attr('fill', chipSwatch[k]);
  svg.append('text').attr('x', chipX[k] + 23).attr('y', 678.5).attr('font-size', 8.5).attr('font-weight', 700)
    .attr('fill', TXT).text(n);
});
svg.append('line').attr('x1', macdAxisX + 0.5).attr('x2', macdAxisX + 0.5).attr('y1', 657).attr('y2', 769).attr('stroke', '#222a37');
svg.append('rect').attr('x', 904).attr('y', ym(0) - 8).attr('width', 18).attr('height', 17).attr('fill', '#dce4ee');
svg.append('text').attr('x', 913).attr('y', ym(0) + 4).attr('text-anchor', 'middle').attr('font-size', 11).attr('fill', '#1a2230').text('0');
svg.append('rect').attr('x', macdAxisX).attr('y', ym(0) - 8).attr('width', 50).attr('height', 17).attr('fill', '#dce4ee');
svg.append('line').attr('x1', macdAxisX + 1).attr('x2', macdAxisX + 5).attr('y1', ym(0)).attr('y2', ym(0)).attr('stroke', '#1a2230');
svg.append('text').attr('x', macdAxisX + 8).attr('y', ym(0) + 4).attr('font-size', 11).attr('fill', '#1a2230').text('0.0000');

// ================= right panel =================
const rp = svg.append('g');
rp.append('rect').attr('x', 987.5).attr('y', 77.5).attr('width', 187).attr('height', 384)
  .attr('fill', PANEL).attr('stroke', EDGE);
rp.append('rect').attr('x', 996.5).attr('y', 86.5).attr('width', 169).attr('height', 30)
  .attr('fill', 'url(#shortGrad)').attr('stroke', '#3a1224');
rp.append('rect').attr('x', 996).attr('y', 86).attr('width', 3).attr('height', 31).attr('fill', RED);
rp.append('text').attr('x', 1007).attr('y', 107).attr('font-size', 15).attr('font-weight', 500)
  .attr('fill', '#ff2458').text('SHORT SET UP');

const setupLabels = ['ENTRY RANGE', 'STOP LOSS', 'TAKE PROFIT 1', 'TAKE PROFIT 2', 'TAKE PROFIT 3'];
const setupValues = [`${levelPrices[3]} - ${levelPrices[1]}`, String(levelPrices[0]),
  String(levelPrices[4]), String(levelPrices[5]), String(levelPrices[6])];
const setupStroke = ['#8c6d12', '#7a1834', '#1a7246', '#1a7246', '#1a7246'];
const setupColor = [GOLD, GREEN, '#ff2a5c', '#ff2a5c', '#ff2a5c'];
setupLabels.forEach((lab, k) => {
  const top = 125 + k * 62;
  rp.append('rect').attr('x', 996.5).attr('y', top + 0.5).attr('width', 169).attr('height', k === 0 ? 51 : 53)
    .attr('fill', '#0f141c').attr('stroke', setupStroke[k]);
  rp.append('text').attr('x', 1006).attr('y', top + 18).attr('font-size', 10.5).attr('font-weight', 600)
    .attr('fill', '#dfe5ee').text(lab);
  rp.append('text').attr('class', 'mono').attr('x', 1006).attr('y', top + (k === 0 ? 39 : 42))
    .attr('font-size', k === 0 ? 13.5 : 16).attr('font-weight', 700).attr('fill', setupColor[k])
    .attr('filter', 'url(#glow)').text(setupValues[k]);
});
rp.append('line').attr('x1', 996).attr('x2', 1166).attr('y1', 435.5).attr('y2', 435.5).attr('stroke', '#273142');
rp.append('text').attr('x', 996).attr('y', 454).attr('font-size', 9.5).attr('fill', MUTED).text('Risk / Reward to TP3');
rp.append('text').attr('class', 'mono').attr('x', 1166).attr('y', 454).attr('text-anchor', 'end')
  .attr('font-size', 10).attr('font-weight', 700).attr('fill', TXT).text(headerValues[1]);

// execution context
rp.append('rect').attr('x', 987.5).attr('y', 471.5).attr('width', 187).attr('height', 188)
  .attr('fill', 'url(#execGrad)').attr('stroke', EDGE);
rp.append('text').attr('x', 995).attr('y', 490).attr('font-size', 11.5).attr('font-weight', 700)
  .attr('fill', TXT).text('EXECUTION CONTEXT');
rp.append('circle').attr('cx', 1162).attr('cy', 486).attr('r', 4.5).attr('fill', GREEN);
defs.append('clipPath').attr('id', 'execClip').append('rect').attr('x', 988).attr('y', 472).attr('width', 186).attr('height', 187);
const ex = rp.append('g').attr('clip-path', 'url(#execClip)');
contextLabels.forEach((lab, k) => {
  const top = 501 + k * 56;
  ex.append('rect').attr('x', 995.5).attr('y', top + 0.5).attr('width', 171).attr('height', 47)
    .attr('fill', '#0f151e').attr('stroke', '#263041');
  ex.append('text').attr('x', 1004).attr('y', top + 16).attr('font-size', 8.5).attr('fill', MUTED).text(lab);
  ex.append('text').attr('class', 'mono').attr('x', 1004).attr('y', top + 36).attr('font-size', 12.5)
    .attr('font-weight', 700).attr('fill', TXT).text(contextValues[k]);
});

// market map
rp.append('rect').attr('x', 987.5).attr('y', 668.5).attr('width', 187).attr('height', 92)
  .attr('fill', PANEL).attr('stroke', EDGE);
rp.append('text').attr('x', 995).attr('y', 688).attr('font-size', 11.5).attr('font-weight', 700)
  .attr('fill', TXT).text('MARKET MAP');
rp.append('text').attr('x', 1167).attr('y', 688).attr('text-anchor', 'end').attr('font-size', 11.5)
  .attr('font-weight', 700).attr('fill', TXT).text(headerValues[0]);
[['LAST PRICE', d3.format('.5f')(closeP[closeP.length - 1]), 698], ['ATR 14', headerValues[2], 729]].forEach(b => {
  rp.append('rect').attr('x', 995.5).attr('y', b[2] + 0.5).attr('width', 171).attr('height', 23)
    .attr('fill', '#0f151e').attr('stroke', '#263041');
  rp.append('text').attr('x', 1004).attr('y', b[2] + 5).attr('font-size', 9).attr('fill', MUTED).text(b[0]);
  rp.append('text').attr('class', 'mono').attr('x', 1004).attr('y', b[2] + 23).attr('font-size', 12.5)
    .attr('font-weight', 700).attr('fill', TXT).text(b[1]);
});
</script>
</body>
</html>
